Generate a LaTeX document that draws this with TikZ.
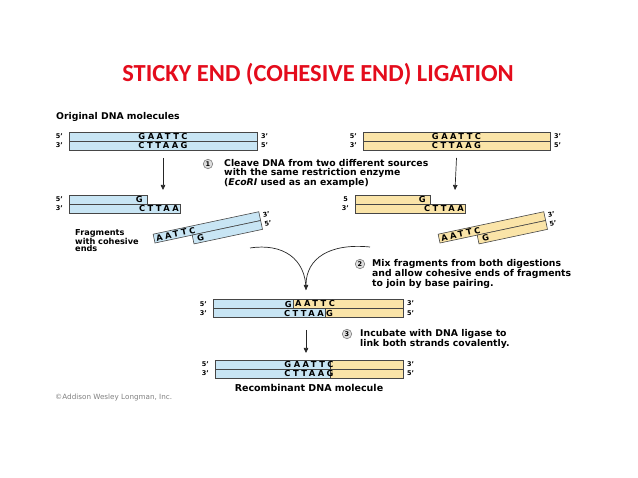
\documentclass[tikz,border=0pt]{standalone}
\usepackage{fontspec}
\setmainfont{DejaVu Sans}
\newfontfamily\titleface{Carlito}
\newfontfamily\seqface[LetterSpace=30]{DejaVu Sans}
\usepackage{tikz}
\usetikzlibrary{arrows.meta,positioning}
\definecolor{titlered}{RGB}{228,12,28}
\definecolor{dnablue}{RGB}{200,229,244}
\definecolor{dnatan}{RGB}{250,228,168}
\definecolor{edge}{RGB}{70,70,70}
\definecolor{stepgray}{RGB}{221,221,221}
\newcommand{\seqfont}{\seqface\bfseries\fontsize{8.3}{8}\selectfont}
\newcommand{\labfont}{\bfseries\fontsize{9.3}{9}\selectfont}
\newcommand{\tipfont}{\bfseries\fontsize{6.5}{6}\selectfont}

\begin{document}
\begin{tikzpicture}[x=1pt,y=-1pt,
  strand/.style={draw=edge,line width=0.6pt,minimum height=9pt,inner sep=0pt,outer sep=0pt},
  bl/.style={strand,fill=dnablue},
  tan/.style={strand,fill=dnatan},
  seqtext/.style={font=\seqfont,inner sep=0pt},
  endlab/.style={font=\tipfont,inner sep=0pt},
  stepnum/.style={circle,draw=gray,fill=stepgray,line width=0.6pt,inner sep=0pt,minimum size=9.5pt,font=\tipfont},
  steptext/.style={font=\labfont,align=left,anchor=north west,inner sep=0pt},
  arr/.style={-{Triangle[length=5pt,width=4.5pt]},line width=0.7pt,black!85}]
\useasboundingbox (0,0) rectangle (638,478);
\node[font=\titleface\bfseries\fontsize{24.5}{24.5}\selectfont,text=titlered] (ttl) at (318,74) {STICKY END (COHESIVE END) LIGATION};
\node[anchor=west,font=\labfont,inner sep=0pt] (orig) at (56,117) {Original DNA molecules};
% original molecules
\node[bl,minimum width=188pt,font=\seqfont] (lt) at (163,136.5) {GAATTC};
\node[bl,minimum width=188pt,font=\seqfont] (lb) at (163,145.5) {CTTAAG};
\node[tan,minimum width=187pt,font=\seqfont] (rt) at (456.5,136.5) {GAATTC};
\node[tan,minimum width=187pt,font=\seqfont] (rb) at (456.5,145.5) {CTTAAG};
\node[endlab,left=6pt of lt] (lt5) {5'};
\node[endlab,left=6pt of lb] (lb3) {3'};
\node[endlab,right=4pt of lt] (lt3) {3'};
\node[endlab,right=4pt of lb] (lb5) {5'};
\node[endlab,left=6pt of rt] (rt5) {5'};
\node[endlab,left=6pt of rb] (rb3) {3'};
\node[endlab,right=4pt of rt] (rt3) {3'};
\node[endlab,right=4pt of rb] (rb5) {5'};
\coordinate (la) at (163,190);
\coordinate (ra) at (455,190);
\draw[arr] ([yshift=-8pt]lb.south) -- (la);
\draw[arr] ([yshift=-8pt]rb.south) -- (ra);
% step 1
\node[stepnum] (s1) at (208,164) {1};
\node[steptext] (t1) at (224,159.5) {Cleave DNA from two different sources\\with the same restriction enzyme\\(\textit{EcoRI} used as an example)};
% cut fragments
\node[bl,minimum width=78pt,anchor=west] (lct) at (69,199.5) {};
\node[bl,minimum width=111pt,anchor=west] (lcb) at (69,208.5) {};
\node[seqtext,anchor=east] (lctg) at ([xshift=-4pt]lct.east) {G};
\node[seqtext,anchor=east] (lcbs) at ([xshift=-1pt]lcb.east) {CTTAA};
\node[endlab,left=6pt of lct] (lct5) {5'};
\node[endlab,left=6pt of lcb] (lcb3) {3'};
\node[tan,minimum width=75pt,anchor=west] (rct) at (355,199.5) {};
\node[tan,minimum width=110pt,anchor=west] (rcb) at (355,208.5) {};
\node[seqtext,anchor=east] (rctg) at ([xshift=-4pt]rct.east) {G};
\node[seqtext,anchor=east] (rcbs) at ([xshift=-1pt]rcb.east) {CTTAA};
\node[endlab,left=7pt of rct] (rct5) {5};
\node[endlab,left=6pt of rcb] (rcb3) {3'};
% fragments with cohesive ends
\begin{scope}[shift={(155,243)},rotate=12,transform shape]
  \node[bl,minimum width=108pt,anchor=south west] (lft) at (0,0) {};
  \node[bl,minimum width=70pt,anchor=north east] (lfb) at (lft.south east) {};
  \node[seqtext,anchor=west] (lfts) at ([xshift=2pt]lft.west) {AATTC};
  \node[seqtext,anchor=west] (lfbg) at ([xshift=4pt]lfb.west) {G};
  \node[endlab,right=3pt of lft] (lf3) {3'};
  \node[endlab,right=3pt of lfb] (lf5) {5'};
\end{scope}
\begin{scope}[shift={(440,243)},rotate=12,transform shape]
  \node[tan,minimum width=108pt,anchor=south west] (rft) at (0,0) {};
  \node[tan,minimum width=70pt,anchor=north east] (rfb) at (rft.south east) {};
  \node[seqtext,anchor=west] (rfts) at ([xshift=2pt]rft.west) {AATTC};
  \node[seqtext,anchor=west] (rfbg) at ([xshift=4pt]rfb.west) {G};
  \node[endlab,right=3pt of rft] (rf3) {3'};
  \node[endlab,right=3pt of rfb] (rf5) {5'};
\end{scope}
\node[font=\bfseries\fontsize{8.2}{7.8}\selectfont,align=left,anchor=north west,inner sep=0pt] (frag) at (75,229) {Fragments\\with cohesive\\ends};
% mixing
\coordinate (cl) at (250,248);
\coordinate (cr) at (370,247);
\coordinate (cm) at (306,290);
\draw[line width=0.7pt,black!85] (cl) .. controls (282,243) and (306,258) .. (cm);
\draw[arr] (cr) .. controls (330,243) and (306,258) .. (cm);
\node[stepnum] (s2) at (360,264) {2};
\node[steptext] (t2) at (372,259.5) {Mix fragments from both digestions\\and allow cohesive ends of fragments\\to join by base pairing.};
% joined by base pairing
\node[bl,minimum width=80pt,anchor=west] (jbt) at (213,304) {};
\node[tan,minimum width=110pt,anchor=west] (jtt) at (293,303.5) {};
\node[bl,minimum width=112pt,anchor=west] (jbb) at (213,313) {};
\node[tan,minimum width=78pt,anchor=west] (jtb) at (325,313) {};
\node[seqtext,anchor=east] (jg1) at ([xshift=-1pt]jbt.east) {G};
\node[seqtext,anchor=west] (jaa) at ([xshift=2pt]jtt.west) {AATTC};
\node[seqtext,anchor=east] (jct) at ([xshift=-1pt]jbb.east) {CTTAA};
\node[seqtext,anchor=west] (jg2) at ([xshift=1pt]jtb.west) {G};
\node[endlab,left=6pt of jbt] (j5) {5'};
\node[endlab,left=6pt of jbb] (j3) {3'};
\node[endlab,right=4pt of jtt] (j3r) {3'};
\node[endlab,right=4pt of jtb] (j5r) {5'};
\coordinate (ja) at (306,330);
\coordinate (jb) at (306,353);
\draw[arr] (ja) -- (jb);
% step 3
\node[stepnum] (s3) at (347,334) {3};
\node[steptext] (t3) at (360,329.5) {Incubate with DNA ligase to\\link both strands covalently.};
% recombinant molecule
\node[bl,minimum width=115pt,anchor=west] (rbt) at (215,364.5) {};
\node[bl,minimum width=115pt,anchor=west] (rbb) at (215,373.5) {};
\node[tan,minimum width=73pt,anchor=west] (rtt) at (330,364.5) {};
\node[tan,minimum width=73pt,anchor=west] (rtb) at (330,373.5) {};
\node[seqtext] (rs1) at (309,364.5) {GAATTC};
\node[seqtext] (rs2) at (309,373.5) {CTTAAG};
\node[endlab,left=6pt of rbt] (r5) {5'};
\node[endlab,left=6pt of rbb] (r3) {3'};
\node[endlab,right=4pt of rtt] (r3r) {3'};
\node[endlab,right=4pt of rtb] (r5r) {5'};
\node[font=\bfseries\fontsize{9.5}{10}\selectfont,inner sep=0pt] (recomb) at (309,388) {Recombinant DNA molecule};
\node[anchor=west,font=\fontsize{7.2}{7}\selectfont,text=gray,inner sep=0pt] (copy) at (55,398) {©Addison Wesley Longman, Inc.};
\end{tikzpicture}
\end{document}
